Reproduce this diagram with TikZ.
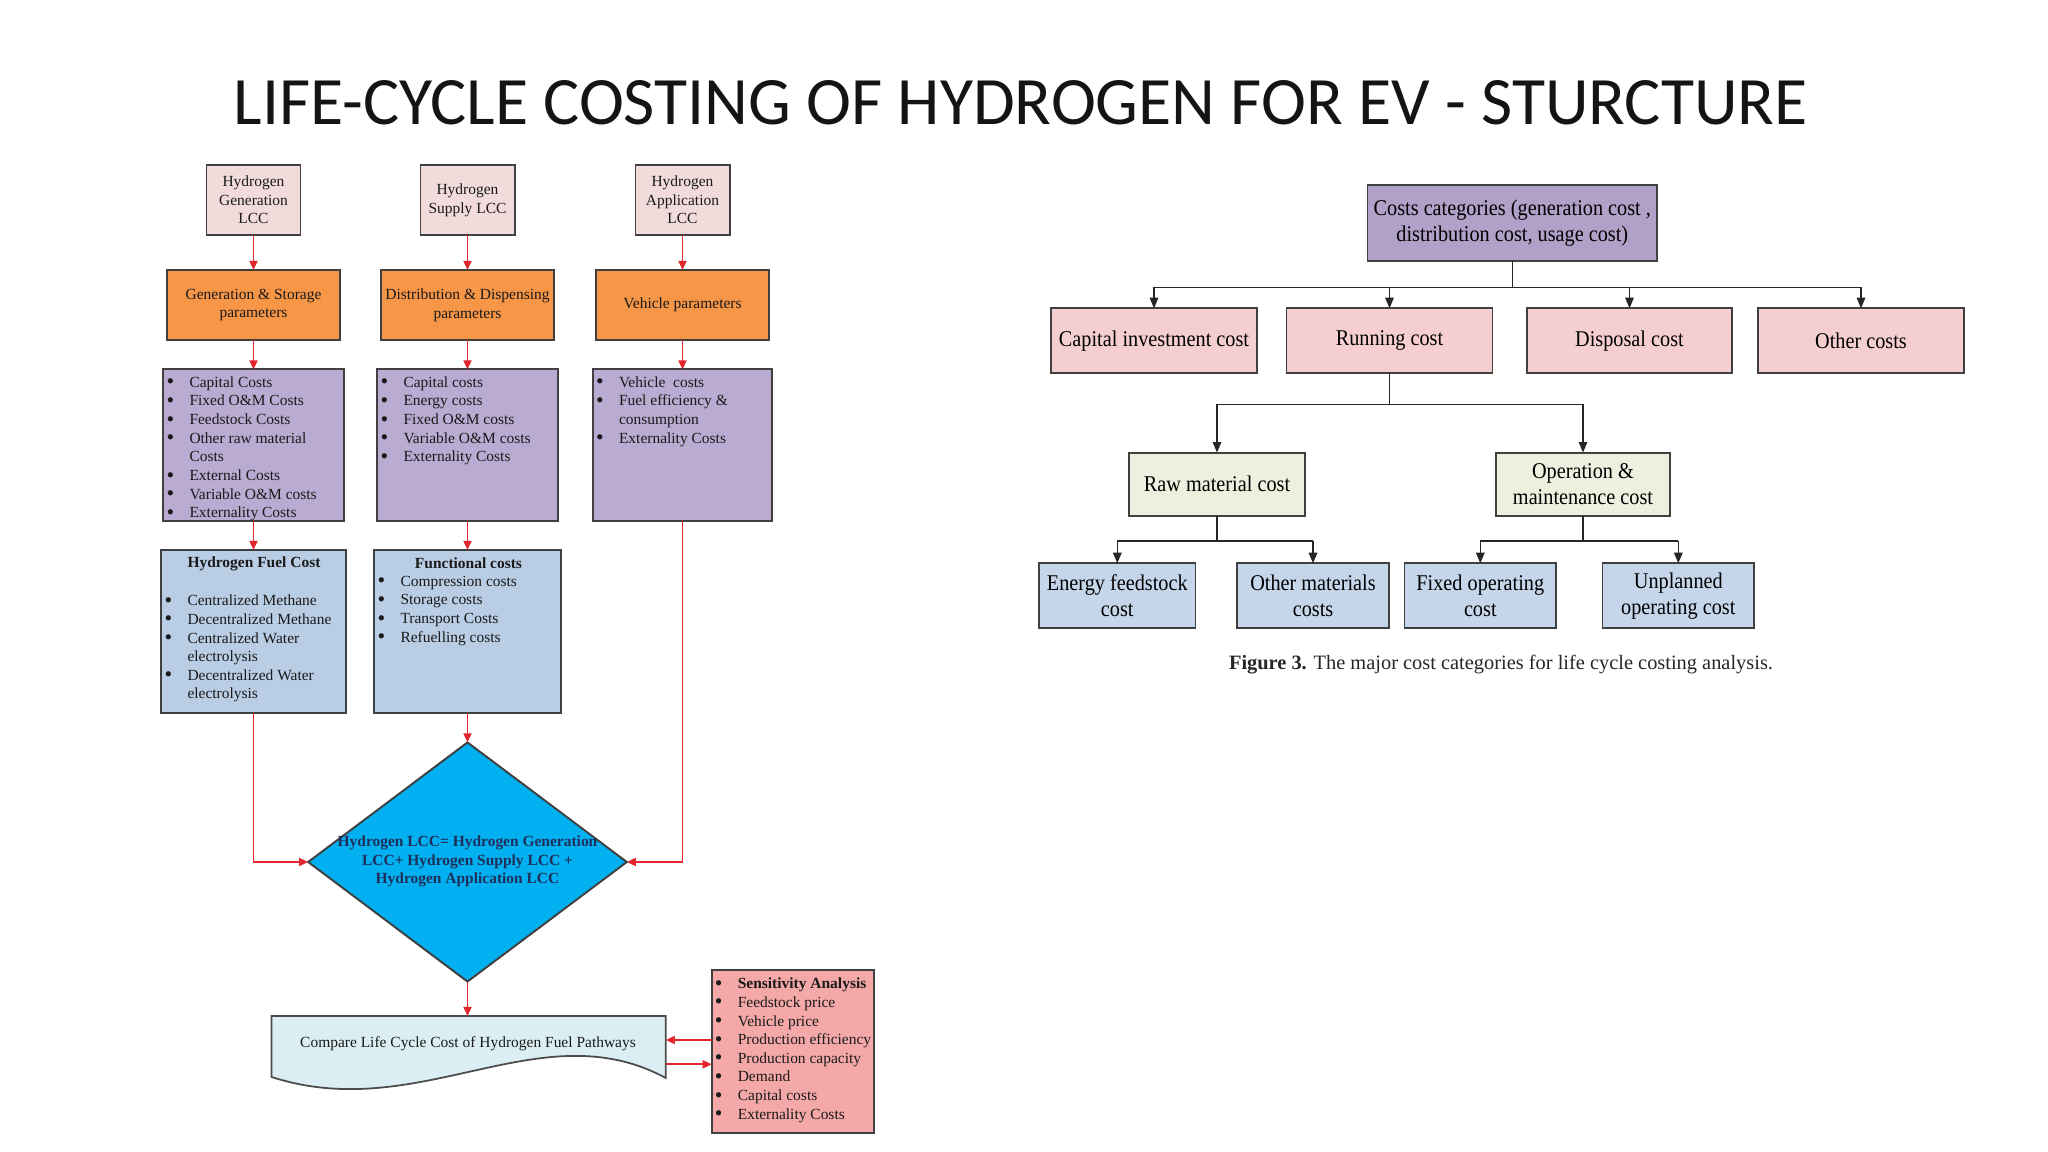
\documentclass[tikz,border=0pt]{standalone}
\usepackage{fontspec}
\setmainfont{Liberation Serif}
\newfontfamily\titlefont{Carlito}
\newfontfamily\condfont[FakeStretch=0.9]{Liberation Serif}
\usetikzlibrary{arrows.meta,shapes.geometric}
\definecolor{lccpink}{HTML}{F2DCDB}
\definecolor{orng}{HTML}{F79646}
\definecolor{purp}{HTML}{B9ABD1}
\definecolor{bluebx}{HTML}{B9CDE5}
\definecolor{diacol}{HTML}{00B0F0}
\definecolor{cmpcol}{HTML}{DAEEF3}
\definecolor{senscol}{HTML}{F4A9A8}
\definecolor{arrred}{HTML}{E3262D}
\definecolor{rtopcol}{HTML}{B1A0C7}
\definecolor{rpinkcol}{HTML}{F5CFD0}
\definecolor{rgreencol}{HTML}{EBF1DE}
\definecolor{rbluecol}{HTML}{C6D6EA}
\definecolor{dtextcol}{HTML}{1F2F5A}
\definecolor{txtdark}{HTML}{1A1A1A}
\newcommand{\lftfont}{\fontsize{4.4pt}{5.3pt}\selectfont}
\newcommand{\rgtfont}{\condfont\fontsize{6.4pt}{7.4pt}\selectfont}
\newdimen\bw \bw=0.23cm
\newcommand{\bigbul}{\raisebox{-0.45pt}{\fontsize{6.2pt}{6.2pt}\selectfont\textbullet}}
\newcommand{\bitem}[1]{\makebox[\bw][l]{\bigbul}#1}
\newcommand{\bcont}[1]{\hspace*{\bw}#1}
\tikzset{
  lbox/.style={draw=black!75, line width=0.55pt, inner sep=0pt, outer sep=0pt, align=center, font=\lftfont, text=txtdark},
  lcc/.style={lbox, fill=lccpink, minimum width=0.94cm, minimum height=0.70cm},
  obox/.style={lbox, fill=orng, minimum width=1.735cm, minimum height=0.70cm},
  pbox/.style={lbox, fill=purp, minimum width=1.80cm, minimum height=1.51cm},
  bbox/.style={lbox, fill=bluebx, minimum width=1.85cm, minimum height=1.63cm},
  sbox/.style={lbox, fill=senscol, minimum width=1.626cm, minimum height=1.633cm},
  dia/.style={lbox, diamond, fill=diacol, minimum width=3.185cm, minimum height=2.39cm},
  dtext/.style={inner sep=0pt, align=center, font=\lftfont\bfseries, text=dtextcol},
  listtxt/.style={inner sep=0pt, outer sep=0pt, anchor=north west, align=left, font=\lftfont, text=txtdark},
  btitle/.style={inner sep=0pt, font=\lftfont\bfseries, text=txtdark},
  rarr/.style={draw=arrred, line width=0.5pt, -{Triangle[length=2.6pt,width=2.3pt]}},
  rbox/.style={draw=black!75, line width=0.5pt, inner sep=0pt, outer sep=0pt, align=center, font=\rgtfont, text=black},
  rtop/.style={rbox, fill=rtopcol, minimum width=2.894cm, minimum height=0.76cm},
  rpink/.style={rbox, fill=rpinkcol, minimum width=2.06cm, minimum height=0.65cm},
  rgreen/.style={rbox, fill=rgreencol, minimum width=1.75cm, minimum height=0.633cm},
  rblue/.style={rbox, fill=rbluecol, minimum width=1.53cm, minimum height=0.65cm},
  bline/.style={draw=black!85, line width=0.45pt},
  barr/.style={draw=black!85, line width=0.45pt, -{Triangle[length=3pt,width=2.4pt]}}
}
\begin{document}
\begin{tikzpicture}[x=0.01cm,y=-0.01cm]
\fill[white] (0,0) rectangle (2048,1152);
\useasboundingbox (0,0) rectangle (2048,1152);

% title
\node[font=\titlefont\fontsize{19.28pt}{23pt}\selectfont, text=black!92, anchor=base, inner sep=0pt] (title) at (1021,125) {LIFE-CYCLE COSTING OF HYDROGEN FOR EV - STURCTURE};

% ---------- left flowchart ----------
\node[lcc] (g1) at (253.5,200) {Hydrogen\\Generation\\LCC};
\node[lcc] (s1) at (467.5,200) {Hydrogen\\Supply LCC};
\node[lcc] (a1) at (682.5,200) {Hydrogen\\Application\\LCC};

\node[obox] (g2) at (253.5,305) {Generation \& Storage\\parameters};
\node[obox] (s2) at (467.5,305) {Distribution \& Dispensing\\parameters};
\node[obox] (a2) at (682.5,305) {Vehicle parameters};

\node[pbox] (g3) at (253.5,445) {};
\node[pbox] (s3) at (467.5,445) {};
\node[pbox, minimum width=1.79cm] (a3) at (682.5,445) {};
\node[listtxt] (g3t) at (166.5,376.5) {\bitem{Capital Costs}\\\bitem{Fixed O\&M Costs}\\\bitem{Feedstock Costs}\\\bitem{Other raw material}\\\bcont{Costs}\\\bitem{External Costs}\\\bitem{Variable O\&M costs}\\\bitem{Externality Costs}};
\node[listtxt] (s3t) at (380.5,376.5) {\bitem{Capital costs}\\\bitem{Energy costs}\\\bitem{Fixed O\&M costs}\\\bitem{Variable O\&M costs}\\\bitem{Externality Costs}};
\node[listtxt] (a3t) at (596,376.5) {\bitem{Vehicle\ \ costs}\\\bitem{Fuel efficiency \&}\\\bcont{consumption}\\\bitem{Externality Costs}};

\node[bbox, minimum width=1.84cm] (g4) at (253.5,631.5) {};
\node[bbox, minimum width=1.86cm] (s4) at (467.5,631.5) {};
\node[btitle] (g4h) at (254,563.5) {Hydrogen Fuel Cost};
\node[btitle] (s4h) at (468.5,563.5) {Functional costs};
\node[listtxt] (g4t) at (164.5,595) {\bitem{Centralized Methane}\\\bitem{Decentralized Methane}\\\bitem{Centralized Water}\\\bcont{electrolysis}\\\bitem{Decentralized Water}\\\bcont{electrolysis}};
\node[listtxt] (s4t) at (377.5,576) {\bitem{Compression costs}\\\bitem{Storage costs}\\\bitem{Transport Costs}\\\bitem{Refuelling costs}};

\node[dia] (d) at (467.5,862) {};
\node[dtext] (dt) at (467.5,861.5) {Hydrogen LCC= Hydrogen Generation\\LCC+ Hydrogen Supply LCC +\\Hydrogen Application LCC};

% compare (document shape)
\path[draw=black!70, line width=0.5pt, fill=cmpcol] (271.6,1016) -- (665.8,1016) -- (665.8,1078) .. controls (540,1010) and (420,1125) .. (271.6,1077) -- cycle;
\coordinate (cmpT) at (467.5,1016);
\coordinate (cmpR1) at (665.8,1040);
\coordinate (cmpR2) at (665.8,1064.3);
\node[font=\lftfont, text=txtdark, inner sep=0pt] (cmp) at (468,1044) {Compare Life Cycle Cost of Hydrogen Fuel Pathways};

\node[sbox] (sens) at (793.1,1051.7) {};
\node[listtxt] (senst) at (714.8,978) {\bitem{\textbf{Sensitivity Analysis}}\\\bitem{Feedstock price}\\\bitem{Vehicle price}\\\bitem{Production efficiency}\\\bitem{Production capacity}\\\bitem{Demand}\\\bitem{Capital costs}\\\bitem{Externality Costs}};

% red connectors
\draw[rarr] (g1.south) -- (g2.north);
\draw[rarr] (s1.south) -- (s2.north);
\draw[rarr] (a1.south) -- (a2.north);
\draw[rarr] (g2.south) -- (g3.north);
\draw[rarr] (s2.south) -- (s3.north);
\draw[rarr] (a2.south) -- (a3.north);
\draw[rarr] (g3.south) -- (g4.north);
\draw[rarr] (s3.south) -- (s4.north);
\draw[rarr] (g4.south) |- (d.west);
\draw[rarr] (s4.south) -- (d.north);
\draw[rarr] (a3.south) |- (d.east);
\draw[rarr] (d.south) -- (cmpT);
\draw[rarr] (sens.west |- cmpR1) -- (cmpR1);
\draw[rarr] (cmpR2) -- (sens.west |- cmpR2);

% ---------- right tree ----------
\node[rtop] (tb) at (1512.3,223) {Costs categories (generation cost ,\\distribution cost, usage cost)};
\coordinate (bus1) at (1512.3,287.3);
\node[rpink] (cap) at (1154,340.8) {Capital investment cost};
\node[rpink] (run) at (1389.5,340.8) {Running cost};
\node[rpink, minimum width=2.05cm] (dis) at (1629.5,340.8) {Disposal cost};
\node[rpink, minimum width=2.055cm] (oth) at (1861,340.8) {Other costs};
\draw[bline] (tb.south) -- (bus1);
\draw[bline] (cap.north |- bus1) -- (oth.north |- bus1);
\foreach \n in {cap,run,dis,oth} \draw[barr] (\n.north |- bus1) -- (\n.north);

\coordinate (bus2) at (1389.5,404.3);
\node[rgreen, minimum width=1.76cm] (raw) at (1217,484.3) {Raw material cost};
\node[rgreen, minimum width=1.74cm] (om) at (1583,484.3) {Operation \&\\maintenance cost};
\draw[bline] (run.south) -- (bus2);
\draw[bline] (raw.north |- bus2) -- (om.north |- bus2);
\draw[barr] (raw.north |- bus2) -- (raw.north);
\draw[barr] (om.north |- bus2) -- (om.north);

\coordinate (bus3) at (1217,541);
\coordinate (bus4) at (1583,541);
\node[rblue, minimum width=1.565cm] (ef) at (1117.3,595.8) {Energy feedstock\\cost};
\node[rblue, minimum width=1.52cm] (omat) at (1313,595.8) {Other materials\\costs};
\node[rblue, minimum width=1.515cm] (fo) at (1480.3,595.8) {Fixed operating\\cost};
\node[rblue, minimum width=1.515cm] (up) at (1678.3,595.8) {Unplanned\\operating cost};
\draw[bline] (raw.south) -- (bus3);
\draw[bline] (ef.north |- bus3) -- (omat.north |- bus3);
\draw[barr] (ef.north |- bus3) -- (ef.north);
\draw[barr] (omat.north |- bus3) -- (omat.north);
\draw[bline] (om.south) -- (bus4);
\draw[bline] (fo.north |- bus4) -- (up.north |- bus4);
\draw[barr] (fo.north |- bus4) -- (fo.north);
\draw[barr] (up.north |- bus4) -- (up.north);

\node[font=\fontsize{5.8pt}{7pt}\selectfont, text=black!85, inner sep=0pt] (fig) at (1501,665) {\textbf{Figure 3.} The major cost categories for life cycle costing analysis.};
\end{tikzpicture}
\end{document}
